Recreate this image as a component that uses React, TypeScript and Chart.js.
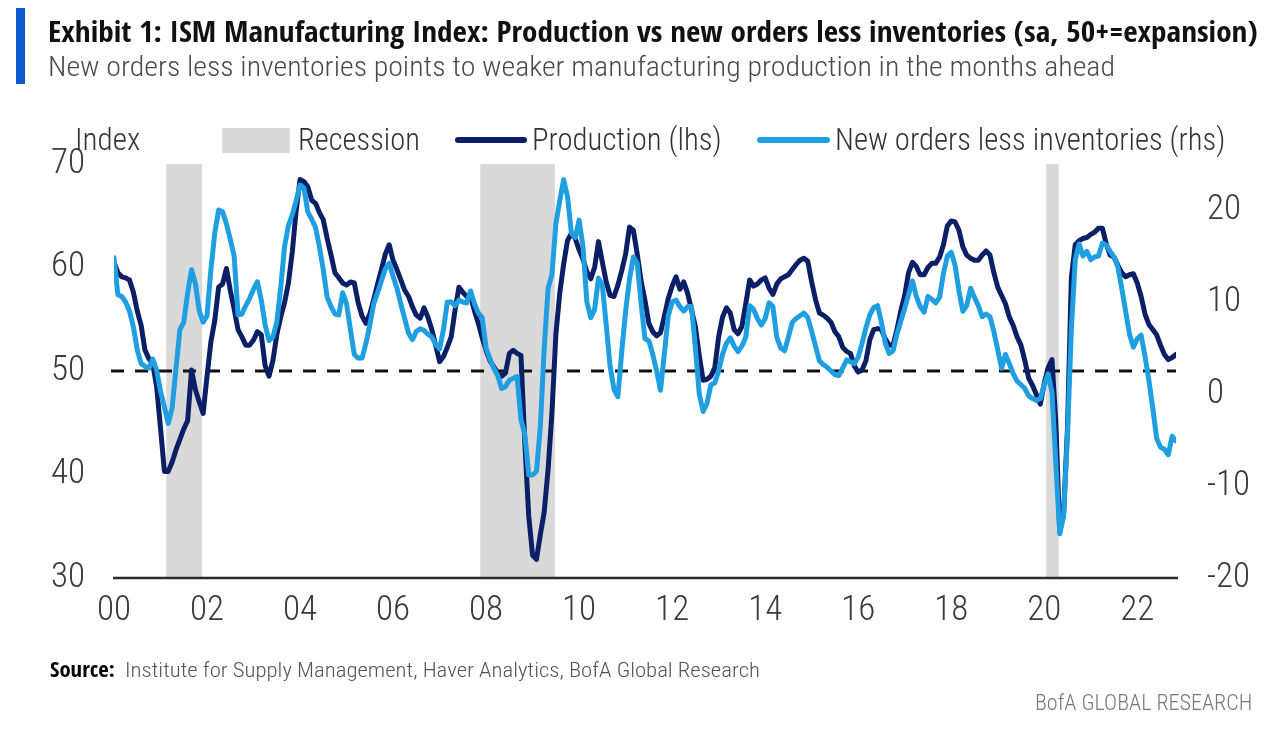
import React, { useEffect, useLayoutEffect, useRef } from "react";
import { Chart, registerables } from "chart.js";

Chart.register(...registerables);

const FONT = "'Roboto Condensed', 'DejaVu Sans Condensed', sans-serif";
const TITLE_FONT = "'Open Sans Condensed', 'Roboto Condensed', 'DejaVu Sans Condensed', sans-serif";

// ---------- data (monthly, Jan 2000 - Nov 2022) ----------
const START_YEAR = 2000;

// ISM production index (lhs)
const production: number[] = [
  60.5, 59.5, 59.1, 59.0, 58.8, 57.6, 55.8, 54.4, 52.0, 51.2, 50.7, 48.5, // 2000
  44.5, 40.3, 40.3, 41.2, 42.4, 43.4, 44.4, 45.2, 50.1, 48.2, 47.0, 45.9, // 2001
  49.5, 52.8, 54.9, 58.1, 58.4, 59.9, 57.8, 56.0, 54.0, 53.3, 52.5, 52.5, // 2002
  53.0, 53.8, 53.5, 50.5, 49.5, 51.0, 53.5, 55.2, 56.6, 58.5, 61.5, 65.5, // 2003
  68.5, 68.3, 67.8, 66.5, 66.2, 65.3, 64.6, 62.8, 61.2, 59.5, 59.0, 58.5, // 2004
  58.3, 58.6, 58.5, 56.6, 55.3, 54.6, 55.5, 56.9, 58.4, 59.8, 61.3, 62.2, // 2005
  60.7, 59.8, 58.8, 57.8, 57.2, 56.2, 55.4, 55.1, 56.1, 55.2, 54.0, 52.5, // 2006
  50.9, 51.4, 52.3, 53.3, 55.9, 58.1, 57.6, 57.2, 57.2, 55.8, 54.6, 53.2, // 2007
  52.0, 51.0, 50.4, 49.8, 49.5, 49.8, 51.7, 52.0, 51.7, 51.5, 43.0, 36.0, // 2008
  32.2, 31.8, 34.2, 36.4, 40.5, 46.0, 53.5, 57.5, 60.3, 62.6, 63.3, 62.8, // 2009
  61.7, 60.8, 59.6, 58.9, 60.0, 62.5, 60.5, 58.6, 57.3, 57.2, 58.3, 59.7, // 2010
  61.3, 63.9, 63.6, 61.3, 58.7, 56.8, 54.6, 53.8, 53.4, 53.7, 55.3, 57.0, // 2011
  58.2, 59.1, 57.9, 58.6, 57.5, 55.9, 54.3, 51.5, 49.1, 49.2, 49.5, 50.3, // 2012
  53.3, 55.2, 56.1, 55.6, 54.0, 53.6, 54.3, 56.5, 58.8, 58.2, 58.4, 58.8, // 2013
  59.0, 58.0, 57.4, 58.4, 58.9, 59.1, 59.3, 59.8, 60.3, 60.7, 60.9, 60.6, // 2014
  58.6, 56.9, 55.6, 55.4, 55.1, 54.7, 53.8, 53.3, 52.3, 51.9, 51.7, 50.5, // 2015
  49.9, 50.1, 51.0, 53.0, 54.0, 54.1, 54.0, 53.1, 52.5, 52.5, 54.0, 55.8, // 2016
  57.3, 59.5, 60.5, 60.1, 59.3, 59.3, 60.0, 60.4, 60.4, 61.0, 62.2, 64.0, // 2017
  64.5, 64.4, 63.6, 62.0, 61.2, 60.9, 60.7, 60.7, 61.2, 61.6, 61.2, 59.5, // 2018
  58.1, 57.3, 56.5, 55.2, 54.4, 53.3, 52.5, 51.0, 49.3, 48.6, 47.7, 46.8, // 2019
  48.8, 50.3, 51.1, 45.0, 34.5, 36.2, 44.5, 59.0, 62.2, 62.6, 62.8, 62.9, // 2020
  63.2, 63.4, 63.8, 63.8, 62.3, 61.2, 61.0, 60.2, 59.5, 59.1, 59.3, 59.4, // 2021
  58.5, 57.2, 55.5, 54.5, 54.0, 53.5, 52.5, 51.6, 51.1, 51.3, 51.6, // 2022
];

// New orders less inventories (rhs)
const newOrdersLessInventories: number[] = [
  14.8, 10.8, 10.6, 10.0, 9.0, 7.3, 4.8, 3.3, 3.0, 2.8, 3.8, 2.6, // 2000
  0.3, -1.4, -3.2, -1.5, 2.8, 7.0, 7.8, 11.0, 13.5, 12.0, 9.0, 7.8, // 2001
  8.5, 13.5, 17.5, 20.0, 19.8, 18.5, 16.8, 15.0, 8.6, 8.7, 9.6, 10.4, // 2002
  11.4, 12.2, 10.2, 7.5, 5.8, 6.2, 7.8, 11.5, 16.0, 18.3, 19.5, 21.0, // 2003
  22.7, 22.4, 19.8, 19.0, 18.1, 16.0, 13.5, 10.5, 9.5, 8.7, 8.6, 11.0, // 2004
  9.8, 7.0, 4.3, 3.9, 3.9, 5.5, 7.5, 9.8, 11.0, 12.3, 13.6, 14.2, // 2005
  12.8, 11.5, 9.8, 8.2, 6.6, 5.9, 6.8, 7.1, 6.9, 6.5, 6.2, 5.4, // 2006
  4.9, 7.0, 10.0, 10.0, 9.6, 10.2, 10.0, 9.9, 11.2, 9.8, 8.8, 8.3, // 2007
  5.0, 3.8, 2.8, 2.0, 0.6, 0.8, 1.5, 1.7, 1.9, -2.8, -4.4, -8.8, // 2008
  -8.8, -8.4, -3.5, 5.0, 11.5, 13.0, 18.5, 21.0, 23.3, 21.5, 17.5, 17.0, // 2009
  18.9, 16.0, 10.0, 8.3, 9.2, 12.6, 11.8, 7.5, 3.0, 0.5, -0.3, 4.6, // 2010
  9.0, 12.5, 14.9, 14.2, 9.8, 6.0, 5.8, 4.3, 2.5, 0.4, 4.4, 8.5, // 2011
  10.0, 10.2, 9.5, 9.0, 9.5, 9.5, 5.0, 0.0, -1.9, -1.0, 1.0, 1.2, // 2012
  2.5, 4.3, 5.5, 6.1, 5.2, 4.6, 5.2, 6.2, 9.6, 9.2, 8.2, 7.5, // 2013
  8.2, 9.9, 9.5, 6.2, 5.0, 4.7, 6.2, 7.8, 8.2, 8.5, 8.8, 8.3, // 2014
  6.8, 5.2, 3.6, 3.2, 2.9, 2.5, 2.1, 2.0, 2.8, 3.7, 3.5, 3.3, // 2015
  4.0, 5.5, 7.2, 8.6, 9.4, 9.6, 7.8, 5.5, 4.4, 4.7, 6.5, 7.9, // 2016
  9.3, 10.8, 12.3, 10.6, 9.5, 8.9, 10.6, 10.3, 9.9, 10.5, 13.1, 15.0, // 2017
  15.4, 14.0, 11.2, 9.0, 9.6, 11.5, 10.5, 9.6, 8.4, 8.7, 8.4, 6.8, // 2018
  4.8, 2.8, 4.3, 3.3, 2.2, 1.4, 1.0, 0.6, -0.2, -0.5, -0.7, -0.5, // 2019
  1.0, 2.2, 0.2, -7.5, -15.2, -13.3, -4.5, 7.0, 14.6, 16.3, 15.0, 15.5, // 2020
  14.6, 14.9, 15.0, 16.4, 16.2, 15.5, 14.9, 13.8, 11.5, 9.0, 6.5, 5.1, // 2021
  6.0, 6.4, 4.1, 1.5, -1.5, -4.8, -5.8, -6.0, -6.6, -4.6, -5.1, // 2022
];

// NBER recessions (first and last month)
const recessions: [string, string][] = [
  ["2001-03", "2001-11"],
  ["2007-12", "2009-06"],
  ["2020-02", "2020-04"],
];

const xTickYears = [2000, 2002, 2004, 2006, 2008, 2010, 2012, 2014, 2016, 2018, 2020, 2022];
const leftTicks = [30, 40, 50, 60, 70];
const rightTicks = [-20, -10, 0, 10, 20];
const leftRange = [30, 70];
const rightRange = [-20, 25];
const expansionLevel = 50;

const NAVY = "#0b1f66";
const LIGHT = "#1f9fe2";
const GREY = "#d9d9d9";

const monthIndex = (s: string) => {
  const [y, m] = s.split("-").map(Number);
  return (y - START_YEAR) * 12 + (m - 1);
};

const overlayPlugin = {
  id: "overlay",
  beforeDatasetsDraw(chart: any) {
    const { ctx, chartArea: a, scales } = chart;
    const xs = scales.x;
    const yl = scales.yLeft;
    ctx.save();
    ctx.fillStyle = GREY;
    recessions.forEach(([s, e]) => {
      const x0 = xs.getPixelForValue(monthIndex(s) - 0.5);
      const x1 = xs.getPixelForValue(monthIndex(e) + 0.75);
      ctx.fillRect(x0, a.top, x1 - x0, a.bottom - a.top);
    });
    const y50 = Math.round(yl.getPixelForValue(expansionLevel));
    ctx.strokeStyle = "#111";
    ctx.lineWidth = 3;
    ctx.setLineDash([13, 11]);
    ctx.beginPath();
    ctx.moveTo(a.left - 3, y50);
    ctx.lineTo(a.right, y50);
    ctx.stroke();
    ctx.restore();
  },
  afterDatasetsDraw(chart: any) {
    const { ctx, chartArea: a } = chart;
    ctx.save();
    ctx.strokeStyle = "#2b2b2b";
    ctx.lineWidth = 2.5;
    ctx.beginPath();
    ctx.moveTo(a.left - 1, a.bottom);
    ctx.lineTo(a.right + 2, a.bottom);
    ctx.stroke();
    ctx.restore();
  },
};

function FitText(props: {
  left: number;
  cy: number;
  size: number;
  width: number;
  weight?: number;
  color?: string;
  family?: string;
  children: React.ReactNode;
}) {
  const { left, cy, size, width, weight = 300, color = "#333", family = FONT, children } = props;
  const ref = useRef<HTMLDivElement>(null);
  useLayoutEffect(() => {
    const el = ref.current;
    if (!el) return;
    const w = el.offsetWidth;
    if (w > 0) el.style.transform = `scaleX(${width / w})`;
  });
  return (
    <div
      ref={ref}
      style={{
        position: "absolute",
        left,
        top: cy - 0.52 * size,
        width: "max-content",
        fontSize: size,
        lineHeight: 1,
        fontWeight: weight,
        color,
        whiteSpace: "pre",
        transformOrigin: "0 0",
        fontFamily: family,
      }}
    >
      {children}
    </div>
  );
}

export default function App() {
  const canvasRef = useRef<HTMLCanvasElement>(null);

  useEffect(() => {
    if (!canvasRef.current) return;
    const prodPts = production.map((v, i) => ({ x: i, y: v }));
    const noiPts = newOrdersLessInventories.map((v, i) => ({ x: i, y: v }));
    const tickFont = { family: FONT, size: 35, lineHeight: 1, weight: "300" };
    const chart = new Chart(canvasRef.current, {
      type: "line",
      data: {
        datasets: [
          {
            label: "New orders less inventories (rhs)",
            data: noiPts,
            yAxisID: "yRight",
            borderColor: LIGHT,
            backgroundColor: LIGHT,
            borderWidth: 5,
            pointRadius: 0,
            tension: 0,
            borderJoinStyle: "round",
            borderCapStyle: "round",
            order: 0,
          },
          {
            label: "Production (lhs)",
            data: prodPts,
            yAxisID: "yLeft",
            borderColor: NAVY,
            backgroundColor: NAVY,
            borderWidth: 5,
            pointRadius: 0,
            tension: 0,
            borderJoinStyle: "round",
            borderCapStyle: "round",
            order: 1,
          },
        ],
      },
      options: {
        animation: false,
        responsive: false,
        devicePixelRatio: 1,
        layout: { padding: { top: 164, left: 0, right: 0, bottom: 0 } },
        plugins: { legend: { display: false }, title: { display: false }, tooltip: { enabled: false } },
        scales: {
          x: {
            type: "linear",
            min: 0,
            max: production.length - 1,
            offset: false,
            grid: { display: false, drawTicks: false },
            border: { display: false },
            afterBuildTicks: (s: any) => {
              s.ticks = xTickYears.map((y) => ({ value: (y - START_YEAR) * 12 }));
            },
            afterFit: (s: any) => {
              s.height = 152;
            },
            ticks: {
              autoSkip: false,
              maxRotation: 0,
              padding: 16,
              color: "#3a3a3a",
              font: tickFont,
              callback: (v: any) => String((START_YEAR + Number(v) / 12) % 100).padStart(2, "0"),
            },
          },
          yLeft: {
            type: "linear",
            position: "left",
            min: leftRange[0],
            max: leftRange[1],
            grid: { display: false, drawTicks: false },
            border: { display: false },
            afterBuildTicks: (s: any) => {
              s.ticks = leftTicks.map((v) => ({ value: v }));
            },
            afterFit: (s: any) => {
              s.width = 114;
            },
            ticks: { padding: 29, color: "#3a3a3a", font: tickFont },
          },
          yRight: {
            type: "linear",
            position: "right",
            min: rightRange[0],
            max: rightRange[1],
            grid: { display: false, drawTicks: false },
            border: { display: false },
            afterBuildTicks: (s: any) => {
              s.ticks = rightTicks.map((v) => ({ value: v }));
            },
            afterFit: (s: any) => {
              s.width = 98;
            },
            ticks: { padding: 31, color: "#3a3a3a", font: tickFont },
          },
        },
      },
      plugins: [overlayPlugin],
    } as any);
    return () => chart.destroy();
  }, []);

  return (
    <div
      style={{
        position: "absolute",
        left: 0,
        top: 0,
        width: 1274,
        height: 730,
        background: "#fff",
        overflow: "hidden",
        fontFamily: FONT,
      }}
    >
      <canvas
        ref={canvasRef}
        width={1274}
        height={730}
        style={{ position: "absolute", left: 0, top: 0, width: 1274, height: 730 }}
      />
      {/* header */}
      <div style={{ position: "absolute", left: 16, top: 8, width: 9, height: 76, background: "#0d5bd1" }} />
      <FitText left={48} cy={32} size={28} width={1210} weight={700} color="#111" family={TITLE_FONT}>
        Exhibit 1: ISM Manufacturing Index: Production vs new orders less inventories (sa, 50+=expansion)
      </FitText>
      <FitText left={48} cy={68} size={28} width={1067} color="#4a4a4a">
        New orders less inventories points to weaker manufacturing production in the months ahead
      </FitText>
      {/* legend */}
      <FitText left={75} cy={140} size={32} width={65} color="#333">
        Index
      </FitText>
      <div style={{ position: "absolute", left: 222, top: 128, width: 68, height: 25, background: GREY }} />
      <FitText left={298} cy={140} size={32} width={122} color="#333">
        Recession
      </FitText>
      <div style={{ position: "absolute", left: 455, top: 137, width: 72, height: 6, borderRadius: 3, background: NAVY }} />
      <FitText left={532} cy={140} size={32} width={190} color="#333">
        Production (lhs)
      </FitText>
      <div style={{ position: "absolute", left: 757, top: 137, width: 73, height: 6, borderRadius: 3, background: LIGHT }} />
      <FitText left={835} cy={140} size={32} width={390} color="#333">
        New orders less inventories (rhs)
      </FitText>
      {/* footer */}
      <FitText left={50} cy={670} size={21} width={710} color="#555">
        <span style={{ fontWeight: 700, color: "#000", fontFamily: TITLE_FONT }}>Source:</span>
        {"  Institute for Supply Management, Haver Analytics, BofA Global Research"}
      </FitText>
      <FitText left={1035} cy={703} size={22} width={217} color="#777">
        BofA GLOBAL RESEARCH
      </FitText>
    </div>
  );
}
